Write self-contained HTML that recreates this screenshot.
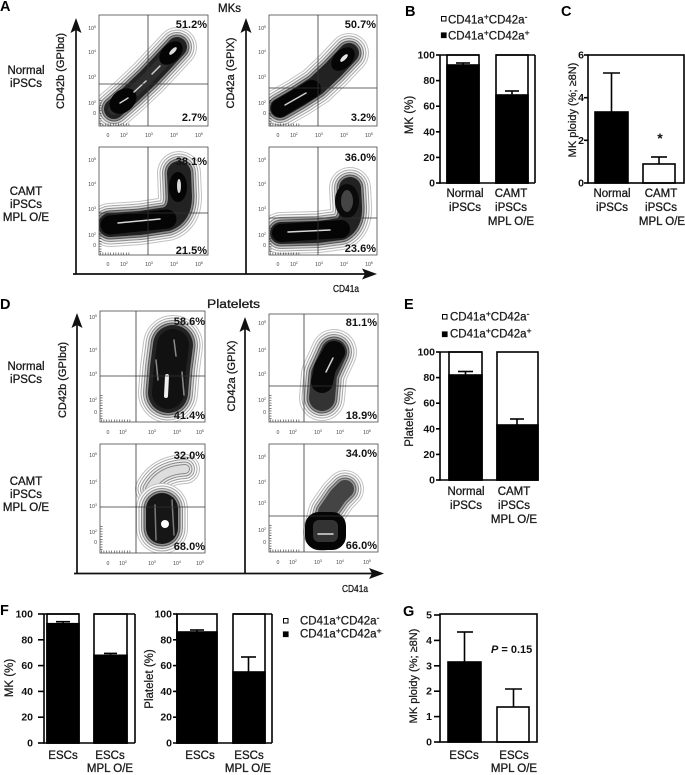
<!DOCTYPE html>
<html><head><meta charset="utf-8"><style>
html,body{margin:0;padding:0;background:#fff;}
svg{display:block;}
</style></head><body>
<svg width="685" height="775" viewBox="0 0 685 775" xmlns="http://www.w3.org/2000/svg" font-family="'Liberation Sans', Arial, sans-serif">
<defs>
<clipPath id="cATL"><rect x="99" y="15" width="109" height="111"/></clipPath>
<clipPath id="cATR"><rect x="269" y="15" width="108" height="111"/></clipPath>
<clipPath id="cABL"><rect x="99" y="147" width="109" height="108"/></clipPath>
<clipPath id="cABR"><rect x="269" y="147" width="108" height="108"/></clipPath>
<clipPath id="cDTL"><rect x="100" y="311" width="105" height="111"/></clipPath>
<clipPath id="cDTR"><rect x="269" y="314" width="109" height="108"/></clipPath>
<clipPath id="cDBL"><rect x="100" y="444" width="105" height="109"/></clipPath>
<clipPath id="cDBR"><rect x="269" y="444" width="109" height="108"/></clipPath>
<path id="pATL" d="M114,109 L130,95 L148,78 L164,61 L177,47"/>
<path id="pATR" d="M280,108 L299,97 L316,86 L333,70 L349,53"/>
<path id="pABL" d="M110,225 L140,223 L167,219 Q180,214 180,197 L179,173"/>
<path id="pABR" d="M281,233 L318,232 L341,229 Q352,223 351,206 L350,188"/>
<path id="pDTL" d="M168,393 L170,368 L173,345"/>
<path id="pDBLl" d="M150,489 Q160,470 185,469"/>
<path id="pDBL" d="M162,528 L162,509"/>
<path id="pDTR" d="M322,398 L324,374 L334,352"/>
<path id="pDBR" d="M322,532 L327,512 L338,496 L345,489"/>
</defs>

<!-- ============ CONTOUR BLOBS ============ -->
<g fill="none" stroke-linecap="round" stroke-linejoin="round">
 <g clip-path="url(#cATL)">
  <use href="#pATL" stroke="#c2c2c2" stroke-width="40"/>
  <use href="#pATL" stroke="#fff" stroke-width="38"/>
  <use href="#pATL" stroke="#a8a8a8" stroke-width="35"/>
  <use href="#pATL" stroke="#f4f4f4" stroke-width="33"/>
  <use href="#pATL" stroke="#8c8c8c" stroke-width="30"/>
  <use href="#pATL" stroke="#d0d0d0" stroke-width="28"/>
  <use href="#pATL" stroke="#555" stroke-width="25"/>
  <use href="#pATL" stroke="#8a8a8a" stroke-width="23"/>
  <use href="#pATL" stroke="#222" stroke-width="20"/>
  <use href="#pATL" stroke="#2e2e2e" stroke-width="12"/>
  <ellipse cx="123" cy="101" rx="15" ry="11" transform="rotate(-40 123 101)" fill="#050505" stroke="none"/>
  <ellipse cx="171" cy="53" rx="14" ry="9" transform="rotate(-45 171 53)" fill="#050505" stroke="none"/>
  <ellipse cx="173" cy="51" rx="5" ry="2" transform="rotate(-45 173 51)" fill="#ddd" stroke="none"/>
  <path d="M120,103 L128,98 M134,92 L146,81 M152,74 L160,66" stroke="#cfcfcf" stroke-width="1.5"/>
 </g>
 <g clip-path="url(#cATR)">
  <use href="#pATR" stroke="#c2c2c2" stroke-width="40"/>
  <use href="#pATR" stroke="#fff" stroke-width="38"/>
  <use href="#pATR" stroke="#a8a8a8" stroke-width="35"/>
  <use href="#pATR" stroke="#f4f4f4" stroke-width="33"/>
  <use href="#pATR" stroke="#8c8c8c" stroke-width="30"/>
  <use href="#pATR" stroke="#d0d0d0" stroke-width="28"/>
  <use href="#pATR" stroke="#555" stroke-width="25"/>
  <use href="#pATR" stroke="#8a8a8a" stroke-width="23"/>
  <use href="#pATR" stroke="#222" stroke-width="20"/>
  <path d="M280,108 L312,89" stroke="#050505" stroke-width="18"/>
  <ellipse cx="343" cy="59" rx="14" ry="9" transform="rotate(-45 343 59)" fill="#050505" stroke="none"/>
  <ellipse cx="344" cy="58" rx="5" ry="2" transform="rotate(-45 344 58)" fill="#e6e6e6" stroke="none"/>
  <path d="M285,105 L306,93" stroke="#cfcfcf" stroke-width="1.5"/>
 </g>
 <g clip-path="url(#cABL)">
  <use href="#pABL" stroke="#c2c2c2" stroke-width="44"/>
  <use href="#pABL" stroke="#fff" stroke-width="42"/>
  <use href="#pABL" stroke="#a8a8a8" stroke-width="39"/>
  <use href="#pABL" stroke="#f4f4f4" stroke-width="37"/>
  <use href="#pABL" stroke="#8c8c8c" stroke-width="34"/>
  <use href="#pABL" stroke="#d0d0d0" stroke-width="32"/>
  <use href="#pABL" stroke="#555" stroke-width="29"/>
  <use href="#pABL" stroke="#8a8a8a" stroke-width="27"/>
  <use href="#pABL" stroke="#222" stroke-width="24"/>
  <path d="M110,225 L167,219" stroke="#050505" stroke-width="19"/>
  <ellipse cx="178" cy="187" rx="9" ry="15" fill="#050505" stroke="none"/>
  <ellipse cx="179" cy="186" rx="2" ry="7" fill="#d8d8d8" stroke="none"/>
  <path d="M118,223 L160,219" stroke="#d8d8d8" stroke-width="1.5"/>
 </g>
 <g clip-path="url(#cABR)">
  <use href="#pABR" stroke="#c2c2c2" stroke-width="42"/>
  <use href="#pABR" stroke="#fff" stroke-width="40"/>
  <use href="#pABR" stroke="#a8a8a8" stroke-width="37"/>
  <use href="#pABR" stroke="#f4f4f4" stroke-width="35"/>
  <use href="#pABR" stroke="#8c8c8c" stroke-width="32"/>
  <use href="#pABR" stroke="#d0d0d0" stroke-width="30"/>
  <use href="#pABR" stroke="#555" stroke-width="27"/>
  <use href="#pABR" stroke="#8a8a8a" stroke-width="25"/>
  <use href="#pABR" stroke="#222" stroke-width="22"/>
  <path d="M281,233 L341,229" stroke="#050505" stroke-width="18"/>
  <ellipse cx="347" cy="201" rx="9" ry="14" fill="#444" stroke="#0a0a0a" stroke-width="6"/>
  <path d="M288,232 L330,230" stroke="#d8d8d8" stroke-width="1.5"/>
 </g>
 <g clip-path="url(#cDTL)">
  <use href="#pDTL" stroke="#c2c2c2" stroke-width="60"/>
  <use href="#pDTL" stroke="#fff" stroke-width="58"/>
  <use href="#pDTL" stroke="#a8a8a8" stroke-width="55"/>
  <use href="#pDTL" stroke="#f4f4f4" stroke-width="53"/>
  <use href="#pDTL" stroke="#8c8c8c" stroke-width="50"/>
  <use href="#pDTL" stroke="#d0d0d0" stroke-width="48"/>
  <use href="#pDTL" stroke="#555" stroke-width="45"/>
  <use href="#pDTL" stroke="#8a8a8a" stroke-width="43"/>
  <use href="#pDTL" stroke="#222" stroke-width="40"/>
  <use href="#pDTL" stroke="#111" stroke-width="32"/>
  <path d="M166,396 L167,376" stroke="#f0f0f0" stroke-width="4"/>
  <path d="M174,340 L176,356 M156,360 L158,380 M182,372 L184,395" stroke="#8a8a8a" stroke-width="1.5"/>
 </g>
 <g clip-path="url(#cDTR)">
  <use href="#pDTR" stroke="#c2c2c2" stroke-width="46"/>
  <use href="#pDTR" stroke="#fff" stroke-width="44"/>
  <use href="#pDTR" stroke="#a8a8a8" stroke-width="41"/>
  <use href="#pDTR" stroke="#f4f4f4" stroke-width="39"/>
  <use href="#pDTR" stroke="#8c8c8c" stroke-width="36"/>
  <use href="#pDTR" stroke="#d0d0d0" stroke-width="34"/>
  <use href="#pDTR" stroke="#555" stroke-width="31"/>
  <use href="#pDTR" stroke="#8a8a8a" stroke-width="29"/>
  <use href="#pDTR" stroke="#333" stroke-width="26"/>
  <path d="M322,382 L325,368 L334,352" stroke="#080808" stroke-width="22"/>
  <path d="M326,372 L333,358" stroke="#cfcfcf" stroke-width="1.5"/>
 </g>
 <g clip-path="url(#cDBL)">
  <use href="#pDBLl" stroke="#bdbdbd" stroke-width="30"/>
  <use href="#pDBLl" stroke="#fff" stroke-width="28"/>
  <use href="#pDBLl" stroke="#a8a8a8" stroke-width="25"/>
  <use href="#pDBLl" stroke="#fff" stroke-width="23"/>
  <use href="#pDBLl" stroke="#999" stroke-width="20"/>
  <use href="#pDBLl" stroke="#f0f0f0" stroke-width="18"/>
  <use href="#pDBLl" stroke="#8a8a8a" stroke-width="15"/>
  <use href="#pDBLl" stroke="#e4e4e4" stroke-width="13"/>
  <use href="#pDBLl" stroke="#888" stroke-width="10"/>
  <use href="#pDBLl" stroke="#ddd" stroke-width="8"/>
  <use href="#pDBL" stroke="#c2c2c2" stroke-width="52"/>
  <use href="#pDBL" stroke="#fff" stroke-width="50"/>
  <use href="#pDBL" stroke="#a8a8a8" stroke-width="47"/>
  <use href="#pDBL" stroke="#f4f4f4" stroke-width="45"/>
  <use href="#pDBL" stroke="#8c8c8c" stroke-width="42"/>
  <use href="#pDBL" stroke="#d0d0d0" stroke-width="40"/>
  <use href="#pDBL" stroke="#555" stroke-width="37"/>
  <use href="#pDBL" stroke="#8a8a8a" stroke-width="35"/>
  <use href="#pDBL" stroke="#161616" stroke-width="32"/>
  <ellipse cx="165" cy="524" rx="4" ry="4" fill="#fff" stroke="none"/>
  <path d="M155,505 L156,540 M172,500 L174,535" stroke="#7a7a7a" stroke-width="1.5"/>
 </g>
 <g clip-path="url(#cDBR)">
  <use href="#pDBR" stroke="#c2c2c2" stroke-width="38"/>
  <use href="#pDBR" stroke="#fff" stroke-width="36"/>
  <use href="#pDBR" stroke="#a8a8a8" stroke-width="33"/>
  <use href="#pDBR" stroke="#f4f4f4" stroke-width="31"/>
  <use href="#pDBR" stroke="#8c8c8c" stroke-width="28"/>
  <use href="#pDBR" stroke="#d0d0d0" stroke-width="26"/>
  <use href="#pDBR" stroke="#5e5e5e" stroke-width="23"/>
  <use href="#pDBR" stroke="#999" stroke-width="21"/>
  <use href="#pDBR" stroke="#444" stroke-width="18"/>
  <rect x="309" y="516" width="33" height="30" rx="10" fill="#333" stroke="#050505" stroke-width="8"/>
  <path d="M318,534 L333,534" stroke="#ddd" stroke-width="1.5"/>
 </g>
</g>

<!-- ============ PLOT BOXES & QUADRANTS ============ -->
<g fill="none" stroke="#4a4a4a" stroke-width="0.8">
 <rect x="99" y="15" width="109" height="111"/>
 <rect x="269" y="15" width="108" height="111"/>
 <rect x="99" y="147" width="109" height="108"/>
 <rect x="269" y="147" width="108" height="108"/>
 <rect x="100" y="311" width="105" height="111"/>
 <rect x="269" y="314" width="109" height="108"/>
 <rect x="100" y="444" width="105" height="109"/>
 <rect x="269" y="444" width="109" height="108"/>
</g>
<g stroke="#333" stroke-width="0.8">
 <line x1="148" y1="15" x2="148" y2="126"/><line x1="99" y1="84" x2="208" y2="84"/>
 <line x1="318" y1="15" x2="318" y2="126"/><line x1="269" y1="88" x2="377" y2="88"/>
 <line x1="148" y1="147" x2="148" y2="255"/><line x1="99" y1="213" x2="208" y2="213"/>
 <line x1="318" y1="147" x2="318" y2="255"/><line x1="269" y1="218" x2="377" y2="218"/>
 <line x1="136" y1="311" x2="136" y2="422"/><line x1="100" y1="376" x2="205" y2="376"/>
 <line x1="304" y1="314" x2="304" y2="422"/><line x1="269" y1="386" x2="378" y2="386"/>
 <line x1="136" y1="444" x2="136" y2="553"/><line x1="100" y1="507" x2="205" y2="507"/>
 <line x1="304" y1="444" x2="304" y2="552"/><line x1="269" y1="516" x2="378" y2="516"/>
</g>
<!-- minor ticks -->
<g stroke="#333" stroke-width="2" stroke-dasharray="0.6 2">
 <line x1="100" y1="124.5" x2="130" y2="124.5"/><line x1="100.5" y1="100" x2="100.5" y2="125"/>
 <line x1="270" y1="124.5" x2="300" y2="124.5"/><line x1="270.5" y1="100" x2="270.5" y2="125"/>
 <line x1="100" y1="253.5" x2="130" y2="253.5"/><line x1="100.5" y1="228" x2="100.5" y2="254"/>
 <line x1="270" y1="253.5" x2="300" y2="253.5"/><line x1="270.5" y1="228" x2="270.5" y2="254"/>
 <line x1="101" y1="420.5" x2="131" y2="420.5"/><line x1="101.5" y1="395" x2="101.5" y2="421"/>
 <line x1="270" y1="420.5" x2="300" y2="420.5"/><line x1="270.5" y1="395" x2="270.5" y2="421"/>
 <line x1="101" y1="551.5" x2="131" y2="551.5"/><line x1="101.5" y1="526" x2="101.5" y2="552"/>
 <line x1="270" y1="550.5" x2="300" y2="550.5"/><line x1="270.5" y1="525" x2="270.5" y2="551"/>
</g>

<!-- tick labels for flow plots -->
<g font-size="5.2" fill="#444">
 <g text-anchor="end">
  <text x="96" y="30">10<tspan font-size="3.5" dy="-2">5</tspan></text>
  <text x="96" y="54">10<tspan font-size="3.5" dy="-2">4</tspan></text>
  <text x="96" y="79">10<tspan font-size="3.5" dy="-2">3</tspan></text>
  <text x="96" y="105">10<tspan font-size="3.5" dy="-2">2</tspan></text>
  <text x="96" y="115">0</text>
  <text x="266" y="30">10<tspan font-size="3.5" dy="-2">5</tspan></text>
  <text x="266" y="54">10<tspan font-size="3.5" dy="-2">4</tspan></text>
  <text x="266" y="79">10<tspan font-size="3.5" dy="-2">3</tspan></text>
  <text x="266" y="105">10<tspan font-size="3.5" dy="-2">2</tspan></text>
  <text x="266" y="115">0</text>
  <text x="96" y="162">10<tspan font-size="3.5" dy="-2">5</tspan></text>
  <text x="96" y="186">10<tspan font-size="3.5" dy="-2">4</tspan></text>
  <text x="96" y="211">10<tspan font-size="3.5" dy="-2">3</tspan></text>
  <text x="96" y="237">10<tspan font-size="3.5" dy="-2">2</tspan></text>
  <text x="96" y="247">0</text>
  <text x="266" y="162">10<tspan font-size="3.5" dy="-2">5</tspan></text>
  <text x="266" y="186">10<tspan font-size="3.5" dy="-2">4</tspan></text>
  <text x="266" y="211">10<tspan font-size="3.5" dy="-2">3</tspan></text>
  <text x="266" y="237">10<tspan font-size="3.5" dy="-2">2</tspan></text>
  <text x="266" y="247">0</text>
  <text x="97" y="319">10<tspan font-size="3.5" dy="-2">5</tspan></text>
  <text x="97" y="352">10<tspan font-size="3.5" dy="-2">4</tspan></text>
  <text x="97" y="376">10<tspan font-size="3.5" dy="-2">3</tspan></text>
  <text x="97" y="402">10<tspan font-size="3.5" dy="-2">2</tspan></text>
  <text x="97" y="414">0</text>
  <text x="266" y="325">10<tspan font-size="3.5" dy="-2">5</tspan></text>
  <text x="266" y="352">10<tspan font-size="3.5" dy="-2">4</tspan></text>
  <text x="266" y="376">10<tspan font-size="3.5" dy="-2">3</tspan></text>
  <text x="266" y="402">10<tspan font-size="3.5" dy="-2">2</tspan></text>
  <text x="266" y="414">0</text>
  <text x="97" y="457">10<tspan font-size="3.5" dy="-2">5</tspan></text>
  <text x="97" y="484">10<tspan font-size="3.5" dy="-2">4</tspan></text>
  <text x="97" y="508">10<tspan font-size="3.5" dy="-2">3</tspan></text>
  <text x="97" y="534">10<tspan font-size="3.5" dy="-2">2</tspan></text>
  <text x="97" y="544">0</text>
  <text x="266" y="459">10<tspan font-size="3.5" dy="-2">5</tspan></text>
  <text x="266" y="484">10<tspan font-size="3.5" dy="-2">4</tspan></text>
  <text x="266" y="505">10<tspan font-size="3.5" dy="-2">3</tspan></text>
  <text x="266" y="532">10<tspan font-size="3.5" dy="-2">2</tspan></text>
  <text x="266" y="544">0</text>
 </g>
 <g text-anchor="middle">
  <text x="108" y="137">0</text><text x="124" y="137">10<tspan font-size="3.5" dy="-2">2</tspan></text><text x="149" y="137">10<tspan font-size="3.5" dy="-2">3</tspan></text><text x="174" y="137">10<tspan font-size="3.5" dy="-2">4</tspan></text><text x="199" y="137">10<tspan font-size="3.5" dy="-2">5</tspan></text>
  <text x="278" y="137">0</text><text x="294" y="137">10<tspan font-size="3.5" dy="-2">2</tspan></text><text x="319" y="137">10<tspan font-size="3.5" dy="-2">3</tspan></text><text x="344" y="137">10<tspan font-size="3.5" dy="-2">4</tspan></text><text x="369" y="137">10<tspan font-size="3.5" dy="-2">5</tspan></text>
  <text x="108" y="266">0</text><text x="124" y="266">10<tspan font-size="3.5" dy="-2">2</tspan></text><text x="149" y="266">10<tspan font-size="3.5" dy="-2">3</tspan></text><text x="174" y="266">10<tspan font-size="3.5" dy="-2">4</tspan></text><text x="199" y="266">10<tspan font-size="3.5" dy="-2">5</tspan></text>
  <text x="278" y="266">0</text><text x="294" y="266">10<tspan font-size="3.5" dy="-2">2</tspan></text><text x="319" y="266">10<tspan font-size="3.5" dy="-2">3</tspan></text><text x="344" y="266">10<tspan font-size="3.5" dy="-2">4</tspan></text><text x="369" y="266">10<tspan font-size="3.5" dy="-2">5</tspan></text>
  <text x="108" y="434">0</text><text x="123" y="434">10<tspan font-size="3.5" dy="-2">2</tspan></text><text x="152" y="434">10<tspan font-size="3.5" dy="-2">3</tspan></text><text x="177" y="434">10<tspan font-size="3.5" dy="-2">4</tspan></text><text x="200" y="434">10<tspan font-size="3.5" dy="-2">5</tspan></text>
  <text x="278" y="434">0</text><text x="293" y="434">10<tspan font-size="3.5" dy="-2">2</tspan></text><text x="318" y="434">10<tspan font-size="3.5" dy="-2">3</tspan></text><text x="340" y="434">10<tspan font-size="3.5" dy="-2">4</tspan></text><text x="367" y="434">10<tspan font-size="3.5" dy="-2">5</tspan></text>
  <text x="108" y="565">0</text><text x="123" y="565">10<tspan font-size="3.5" dy="-2">2</tspan></text><text x="152" y="565">10<tspan font-size="3.5" dy="-2">3</tspan></text><text x="177" y="565">10<tspan font-size="3.5" dy="-2">4</tspan></text><text x="200" y="565">10<tspan font-size="3.5" dy="-2">5</tspan></text>
  <text x="278" y="564">0</text><text x="293" y="564">10<tspan font-size="3.5" dy="-2">2</tspan></text><text x="318" y="564">10<tspan font-size="3.5" dy="-2">3</tspan></text><text x="340" y="564">10<tspan font-size="3.5" dy="-2">4</tspan></text><text x="367" y="564">10<tspan font-size="3.5" dy="-2">5</tspan></text>
 </g>
</g>

<!-- percent labels -->
<g font-size="11" font-weight="bold" fill="#111" text-anchor="end">
 <text x="207" y="28">51.2%</text><text x="207" y="121">2.7%</text>
 <text x="376" y="28">50.7%</text><text x="376" y="121">3.2%</text>
 <text x="207" y="165">38.1%</text><text x="207" y="254">21.5%</text>
 <text x="376" y="161">36.0%</text><text x="376" y="252">23.6%</text>
 <text x="205" y="325">58.6%</text><text x="205" y="419">41.4%</text>
 <text x="377" y="326">81.1%</text><text x="377" y="419">18.9%</text>
 <text x="205" y="459">32.0%</text><text x="205" y="550">68.0%</text>
 <text x="377" y="457">34.0%</text><text x="377" y="549">66.0%</text>
</g>

<!-- ============ BIG AXES ============ -->
<g stroke="#111" stroke-width="1.7" fill="none">
 <line x1="76" y1="274" x2="76" y2="28"/>
 <line x1="246" y1="274" x2="246" y2="28"/>
 <line x1="73" y1="274" x2="366" y2="274"/>
 <line x1="77" y1="574" x2="77" y2="323"/>
 <line x1="245" y1="574" x2="245" y2="327"/>
 <line x1="74" y1="573.5" x2="373" y2="573.5"/>
</g>
<g fill="#111">
 <path d="M76,18 L81.5,33 L76,30 L70.5,33 Z"/>
 <path d="M246,18 L251.5,33 L246,30 L240.5,33 Z"/>
 <path d="M377,274 L362,268.5 L365,274 L362,279.5 Z"/>
 <path d="M77,313 L82.5,328 L77,325 L71.5,328 Z"/>
 <path d="M245,317 L250.5,332 L245,329 L239.5,332 Z"/>
 <path d="M384,573.5 L369,568 L372,573.5 L369,579 Z"/>
</g>

<!-- panel letters -->
<g font-size="14.5" font-weight="bold" fill="#000">
 <text x="0" y="11">A</text>
 <text x="405" y="16">B</text>
 <text x="561" y="16">C</text>
 <text x="0" y="309">D</text>
 <text x="404" y="309">E</text>
 <text x="0" y="615">F</text>
 <text x="403" y="616">G</text>
</g>

<!-- flow labels -->
<g fill="#1a1a1a" stroke="#1a1a1a" stroke-width="0.3">
 <text x="218" y="12" font-size="11.5">MKs</text>
 <text x="207" y="308" font-size="11.5" textLength="53" lengthAdjust="spacingAndGlyphs">Platelets</text>
 <text x="333" y="292" font-size="10" textLength="26" lengthAdjust="spacingAndGlyphs">CD41a</text>
 <text x="342" y="592" font-size="10" textLength="26" lengthAdjust="spacingAndGlyphs">CD41a</text>
 <g font-size="11.5" text-anchor="middle">
  <text x="26" y="74">Normal</text><text x="26" y="87">iPSCs</text>
  <text x="26" y="195">CAMT</text><text x="26" y="208">iPSCs</text><text x="26" y="221">MPL O/E</text>
  <text x="26" y="370">Normal</text><text x="26" y="383">iPSCs</text>
  <text x="26" y="485">CAMT</text><text x="26" y="498">iPSCs</text><text x="26" y="511">MPL O/E</text>
 </g>
 <g font-size="11" text-anchor="middle">
  <text transform="translate(64,71) rotate(-90)">CD42b (GPIbα)</text>
  <text transform="translate(234,73) rotate(-90)">CD42a (GPIX)</text>
  <text transform="translate(66,380) rotate(-90)">CD42b (GPIbα)</text>
  <text transform="translate(235,376) rotate(-90)">CD42a (GPIX)</text>
 </g>
</g>

<!-- ============ BAR CHARTS ============ -->
<!-- legends -->
<g fill="#1a1a1a" stroke="#1a1a1a" stroke-width="0.25" font-size="11.5">
 <rect x="441.5" y="16.5" width="4.5" height="4.5" fill="#fff" stroke="#000" stroke-width="1"/>
 <rect x="441" y="32.5" width="5.5" height="5.5" fill="#000"/>
 <text x="448" y="23.5">CD41a<tspan font-size="8.5" dy="-4">+</tspan><tspan dy="4">CD42a</tspan><tspan font-size="8.5" dy="-4">-</tspan></text>
 <text x="448" y="39.5">CD41a<tspan font-size="8.5" dy="-4">+</tspan><tspan dy="4">CD42a</tspan><tspan font-size="8.5" dy="-4">+</tspan></text>

 <rect x="442.5" y="314.5" width="4.5" height="4.5" fill="#fff" stroke="#000" stroke-width="1"/>
 <rect x="442" y="331.5" width="5.5" height="5.5" fill="#000"/>
 <text x="450" y="320.5">CD41a<tspan font-size="8.5" dy="-4">+</tspan><tspan dy="4">CD42a</tspan><tspan font-size="8.5" dy="-4">-</tspan></text>
 <text x="450" y="337.5">CD41a<tspan font-size="8.5" dy="-4">+</tspan><tspan dy="4">CD42a</tspan><tspan font-size="8.5" dy="-4">+</tspan></text>

 <rect x="283.5" y="618.5" width="4.5" height="4.5" fill="#fff" stroke="#000" stroke-width="1"/>
 <rect x="283" y="631.5" width="5.5" height="5.5" fill="#000"/>
 <text x="300" y="624.5">CD41a<tspan font-size="8.5" dy="-4">+</tspan><tspan dy="4">CD42a</tspan><tspan font-size="8.5" dy="-4">-</tspan></text>
 <text x="300" y="637.5">CD41a<tspan font-size="8.5" dy="-4">+</tspan><tspan dy="4">CD42a</tspan><tspan font-size="8.5" dy="-4">+</tspan></text>
</g>

<!-- Panel B -->
<g stroke="#000" stroke-width="1.6">
 <rect x="447" y="55" width="32" height="128" fill="#fff"/>
 <rect x="447" y="65" width="32" height="118" fill="#000"/>
 <rect x="496" y="55" width="32" height="128" fill="#fff"/>
 <rect x="496" y="95" width="32" height="88" fill="#000"/>
 <line x1="440" y1="55" x2="440" y2="183.7"/>
 <line x1="440" y1="55" x2="479" y2="55"/>
 <line x1="496" y1="55" x2="535" y2="55"/>
 <line x1="535" y1="55" x2="535" y2="183"/>
 <line x1="440" y1="183" x2="535" y2="183"/>
 <line x1="463" y1="65" x2="463" y2="63"/><line x1="456" y1="63" x2="470" y2="63"/>
 <line x1="512" y1="95" x2="512" y2="91"/><line x1="505" y1="91" x2="519" y2="91"/>
 <line x1="436" y1="55" x2="440" y2="55"/><line x1="436" y1="80.6" x2="440" y2="80.6"/><line x1="436" y1="106.2" x2="440" y2="106.2"/><line x1="436" y1="131.8" x2="440" y2="131.8"/><line x1="436" y1="157.4" x2="440" y2="157.4"/><line x1="436" y1="183" x2="440" y2="183"/>
</g>
<g font-size="10.5" font-weight="bold" text-anchor="end" fill="#111">
 <text x="435" y="58.5">100</text><text x="435" y="84">80</text><text x="435" y="109.7">60</text><text x="435" y="135.3">40</text><text x="435" y="161">20</text><text x="435" y="186.5">0</text>
</g>

<!-- Panel C -->
<g stroke="#000" stroke-width="1.6">
 <rect x="595" y="112" width="33" height="71" fill="#000"/>
 <rect x="643" y="164" width="32" height="19" fill="#fff"/>
 <rect x="588" y="55" width="96" height="128" fill="none"/>
 <line x1="611.5" y1="112" x2="611.5" y2="73"/><line x1="603" y1="73" x2="620" y2="73"/>
 <line x1="659" y1="164" x2="659" y2="157"/><line x1="651" y1="157" x2="667" y2="157"/>
 <line x1="584" y1="55" x2="588" y2="55"/><line x1="584" y1="97.7" x2="588" y2="97.7"/><line x1="584" y1="140.3" x2="588" y2="140.3"/><line x1="584" y1="183" x2="588" y2="183"/>
</g>
<g font-size="10.5" font-weight="bold" text-anchor="end" fill="#111">
 <text x="584" y="58.5">6</text><text x="584" y="101.2">4</text><text x="584" y="143.8">2</text><text x="584" y="186.5">0</text>
</g>
<text x="660" y="143" font-size="14" font-weight="bold" text-anchor="middle" fill="#111">*</text>

<!-- Panel E -->
<g stroke="#000" stroke-width="1.6">
 <rect x="449" y="352" width="33" height="128" fill="#fff"/>
 <rect x="449" y="375" width="33" height="105" fill="#000"/>
 <rect x="497" y="352" width="41" height="128" fill="#fff"/>
 <rect x="497" y="425" width="41" height="55" fill="#000"/>
 <line x1="440" y1="352" x2="440" y2="480.7"/>
 <line x1="440" y1="352" x2="482" y2="352"/>
 <line x1="440" y1="480" x2="538" y2="480"/>
 <line x1="465.5" y1="375" x2="465.5" y2="371.5"/><line x1="458" y1="371.5" x2="473" y2="371.5"/>
 <line x1="517" y1="425" x2="517" y2="419"/><line x1="510" y1="419" x2="524" y2="419"/>
 <line x1="436" y1="352" x2="440" y2="352"/><line x1="436" y1="377.6" x2="440" y2="377.6"/><line x1="436" y1="403.2" x2="440" y2="403.2"/><line x1="436" y1="428.8" x2="440" y2="428.8"/><line x1="436" y1="454.4" x2="440" y2="454.4"/><line x1="436" y1="480" x2="440" y2="480"/>
</g>
<g font-size="10.5" font-weight="bold" text-anchor="end" fill="#111">
 <text x="435" y="355.5">100</text><text x="435" y="381">80</text><text x="435" y="406.7">60</text><text x="435" y="432.3">40</text><text x="435" y="458">20</text><text x="435" y="483.5">0</text>
</g>

<!-- Panel F chart 1 -->
<g stroke="#000" stroke-width="1.6">
 <rect x="47" y="614" width="32" height="129" fill="#fff"/>
 <rect x="47" y="623.7" width="32" height="119.3" fill="#000"/>
 <rect x="94" y="614" width="33" height="129" fill="#fff"/>
 <rect x="94" y="655.3" width="33" height="87.7" fill="#000"/>
 <line x1="44" y1="614" x2="44" y2="743.7"/>
 <line x1="44" y1="614" x2="79" y2="614"/>
 <line x1="94" y1="614" x2="135" y2="614"/>
 <line x1="135" y1="614" x2="135" y2="743"/>
 <line x1="44" y1="743" x2="135" y2="743"/>
 <line x1="63" y1="623.7" x2="63" y2="621.7"/><line x1="56" y1="621.7" x2="70" y2="621.7"/>
 <line x1="110.5" y1="655.3" x2="110.5" y2="653.4"/><line x1="104" y1="653.4" x2="117" y2="653.4"/>
 <line x1="38" y1="614" x2="44" y2="614"/><line x1="38" y1="639.8" x2="44" y2="639.8"/><line x1="38" y1="665.6" x2="44" y2="665.6"/><line x1="38" y1="691.4" x2="44" y2="691.4"/><line x1="38" y1="717.2" x2="44" y2="717.2"/><line x1="38" y1="743" x2="44" y2="743"/>
</g>
<g font-size="10.5" font-weight="bold" text-anchor="end" fill="#111">
 <text x="33" y="617.5">100</text><text x="33" y="643.3">80</text><text x="33" y="669.1">60</text><text x="33" y="694.9">40</text><text x="33" y="720.7">20</text><text x="33" y="746.5">0</text>
</g>

<!-- Panel F chart 2 -->
<g stroke="#000" stroke-width="1.6">
 <rect x="177" y="614" width="40" height="129" fill="#fff"/>
 <rect x="177" y="632" width="40" height="111" fill="#000"/>
 <rect x="233" y="614" width="32" height="129" fill="#fff"/>
 <rect x="233" y="672" width="32" height="71" fill="#000"/>
 <line x1="177" y1="614" x2="177" y2="743.7"/>
 <line x1="233" y1="614" x2="272" y2="614"/>
 <line x1="272" y1="614" x2="272" y2="743"/>
 <line x1="173" y1="743" x2="272" y2="743"/>
 <line x1="197" y1="632" x2="197" y2="630"/><line x1="190" y1="630" x2="204" y2="630"/>
 <line x1="248.5" y1="672" x2="248.5" y2="657"/><line x1="241" y1="657" x2="256" y2="657"/>
 <line x1="173" y1="614" x2="177" y2="614"/><line x1="173" y1="639.8" x2="177" y2="639.8"/><line x1="173" y1="665.6" x2="177" y2="665.6"/><line x1="173" y1="691.4" x2="177" y2="691.4"/><line x1="173" y1="717.2" x2="177" y2="717.2"/>
</g>
<g font-size="10.5" font-weight="bold" text-anchor="end" fill="#111">
 <text x="172" y="617.5">100</text><text x="172" y="643.3">80</text><text x="172" y="669.1">60</text><text x="172" y="694.9">40</text><text x="172" y="720.7">20</text><text x="172" y="746.5">0</text>
</g>

<!-- Panel G -->
<g stroke="#000" stroke-width="1.6">
 <rect x="448" y="662" width="33" height="80" fill="#000"/>
 <rect x="497" y="707" width="32" height="35" fill="#fff"/>
 <rect x="440" y="614" width="97" height="128" fill="none"/>
 <line x1="464.5" y1="662" x2="464.5" y2="632"/><line x1="457" y1="632" x2="473" y2="632"/>
 <line x1="513.5" y1="707" x2="513.5" y2="689"/><line x1="505" y1="689" x2="522" y2="689"/>
 <line x1="434" y1="615" x2="440" y2="615"/><line x1="434" y1="640.4" x2="440" y2="640.4"/><line x1="434" y1="665.8" x2="440" y2="665.8"/><line x1="434" y1="691.2" x2="440" y2="691.2"/><line x1="434" y1="716.6" x2="440" y2="716.6"/><line x1="434" y1="742" x2="440" y2="742"/>
</g>
<g font-size="10.5" font-weight="bold" text-anchor="end" fill="#111">
 <text x="432" y="618.5">5</text><text x="432" y="643.9">4</text><text x="432" y="669.3">3</text><text x="432" y="694.7">2</text><text x="432" y="720.1">1</text><text x="432" y="745.5">0</text>
</g>
<text x="491" y="653" font-size="11" font-weight="bold" fill="#111"><tspan font-style="italic">P</tspan> = 0.15</text>

<!-- bar chart axis labels -->
<g fill="#1a1a1a" stroke="#1a1a1a" stroke-width="0.3" font-size="11.5" text-anchor="middle">
 <text x="465" y="197">Normal</text><text x="465" y="211">iPSCs</text>
 <text x="511" y="197">CAMT</text><text x="511" y="211">iPSCs</text><text x="511" y="225">MPL O/E</text>
 <text x="612" y="197">Normal</text><text x="612" y="211">iPSCs</text>
 <text x="661" y="197">CAMT</text><text x="661" y="211">iPSCs</text><text x="662" y="225">MPL O/E</text>
 <text x="466" y="495">Normal</text><text x="466" y="509">iPSCs</text>
 <text x="514" y="495">CAMT</text><text x="514" y="509">iPSCs</text><text x="514" y="523">MPL O/E</text>
 <text x="63" y="759">ESCs</text>
 <text x="110" y="759">ESCs</text><text x="110" y="772">MPL O/E</text>
 <text x="200" y="759">ESCs</text>
 <text x="249" y="759">ESCs</text><text x="248" y="772">MPL O/E</text>
 <text x="464" y="759">ESCs</text>
 <text x="514" y="759">ESCs</text><text x="514" y="772">MPL O/E</text>
</g>
<g fill="#1a1a1a" stroke="#1a1a1a" stroke-width="0.25" font-size="11.5" text-anchor="middle">
 <text transform="translate(413,115) rotate(-90)">MK (%)</text>
 <text transform="translate(576,110) rotate(-90)" font-size="11">MK ploidy (%; ≥8N)</text>
 <text transform="translate(413,417) rotate(-90)">Platelet (%)</text>
 <text transform="translate(13,678) rotate(-90)">MK (%)</text>
 <text transform="translate(153,679) rotate(-90)">Platelet (%)</text>
 <text transform="translate(417,676) rotate(-90)" font-size="11">MK ploidy (%; ≥8N)</text>
</g>
</svg>
</body></html>
